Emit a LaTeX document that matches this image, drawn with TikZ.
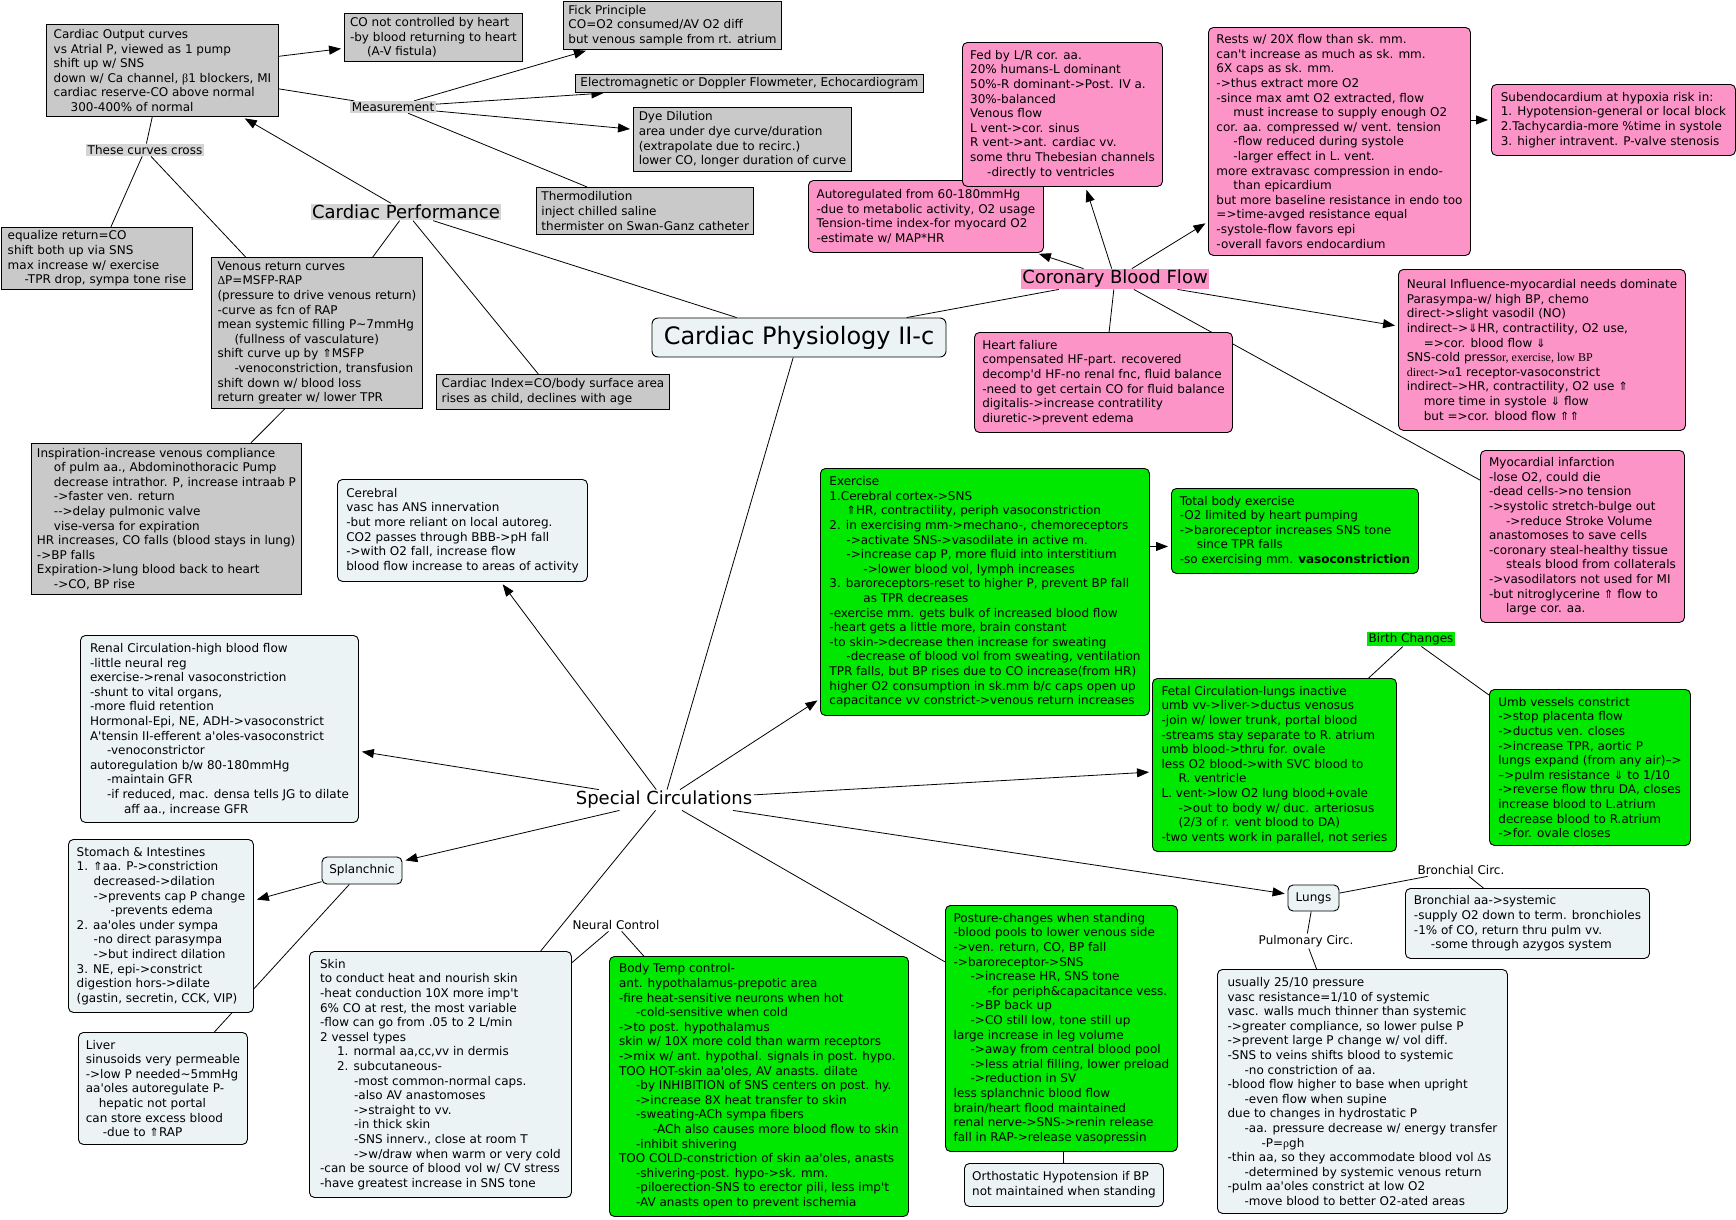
\documentclass[tikz,border=0pt]{standalone}
\usepackage{fontspec}
\setmainfont{DejaVu Sans}[Ligatures=TeXOff]
\newfontfamily\serifx{Liberation Serif}[Ligatures=TeXOff]
\usetikzlibrary{arrows.meta,backgrounds,calc}
\definecolor{graybox}{RGB}{201,201,201}
\definecolor{labgray}{RGB}{212,212,212}
\definecolor{pinkbox}{RGB}{252,148,200}
\definecolor{greenbox}{RGB}{0,232,0}
\definecolor{lightbox}{RGB}{236,243,245}
\newcommand\IND{\hspace*{17pt}}
\newcommand\INDD{\hspace*{34pt}}
\newcommand\upA{{\fontsize{11.5}{12}\selectfont ⇑}}
\newcommand\dnA{{\fontsize{11.5}{12}\selectfont ⇓}}
\newcommand\sym[1]{{\serifx #1}}
\tikzset{
 every node/.style={font=\fontsize{12}{14.6}\selectfont},
 box/.style={draw=black, line width=0.9pt, align=left, anchor=north west, inner xsep=5pt, inner ysep=3pt},
 gbox/.style={box, fill=graybox},
 pbox/.style={box, fill=pinkbox, rounded corners=5pt},
 ebox/.style={box, fill=greenbox, rounded corners=5pt},
 lbox/.style={box, fill=lightbox, rounded corners=5pt},
 lab/.style={inner sep=1.5pt},
 big/.style={font=\fontsize{18}{21}\selectfont, inner sep=1.5pt},
 con/.style={line width=0.8pt},
 arr/.style={con, -{Triangle[length=12pt,width=9pt]}, shorten >=3pt},
}
\begin{document}
\begin{tikzpicture}[x=1pt,y=-1pt]
\useasboundingbox (0,0) rectangle (1736,1219);

% ---------- centre ----------
\node[draw=black, line width=0.9pt, rounded corners=6pt, fill=lightbox, font=\fontsize{24}{28}\selectfont, minimum width=294, minimum height=39] (phys) at (799,337.5) {Cardiac Physiology II-c};

% ---------- labels ----------
\node[lab, fill=labgray] (meas) at (393,107) {Measurement};
\node[lab, fill=labgray] (cross) at (145,150) {These curves cross};
\node[big, fill=labgray] (perf) at (406,212) {Cardiac Performance};
\node[big, fill=pinkbox] (cor) at (1115,279) {Coronary Blood Flow};
\node[big] (spec) at (664,800) {Special Circulations};
\node[lab] (neural) at (616,925) {Neural Control};
\node[lab] (bron) at (1461,870) {Bronchial Circ.};
\node[lab] (pulm) at (1306,941) {Pulmonary Circ.};
\node[lab, fill=greenbox] (birth) at (1411,639) {Birth Changes};

% ---------- Cardiac performance (gray) ----------
\node[gbox, minimum width=232, minimum height=92] (cout) at (46,24) {Cardiac Output curves\\vs Atrial P, viewed as 1 pump\\shift up w/ SNS\\down w/ Ca channel, \sym{β}1 blockers, MI\\cardiac reserve-CO above normal\\\IND 300-400\% of normal};
\node[gbox, minimum width=178, minimum height=48] (conot) at (344,13) {CO not controlled by heart\\-by blood returning to heart\\\IND (A-V fistula)};
\node[gbox, minimum width=216, minimum height=48] (fick) at (563,1) {Fick Principle\\CO=O2 consumed/AV O2 diff\\but venous sample from rt. atrium};
\node[gbox, minimum width=346, minimum height=18] (elec) at (575,74) {Electromagnetic or Doppler Flowmeter, Echocardiogram};
\node[gbox, minimum width=218, minimum height=64] (dye) at (633,107) {Dye Dilution\\area under dye curve/duration\\(extrapolate due to recirc.)\\lower CO, longer duration of curve};
\node[gbox, minimum width=217, minimum height=47] (thermo) at (536,187) {Thermodilution\\inject chilled saline\\thermister on Swan-Ganz catheter};
\node[gbox, minimum width=191, minimum height=62] (equal) at (1,227) {equalize return=CO\\shift both up via SNS\\max increase w/ exercise\\\IND -TPR drop, sympa tone rise};
\node[gbox, minimum width=211, minimum height=151] (venous) at (211,257) {Venous return curves\\\sym{Δ}P=MSFP-RAP\\(pressure to drive venous return)\\-curve as fcn of RAP\\mean systemic filling P\textasciitilde7mmHg\\\IND (fullness of vasculature)\\shift curve up by \upA MSFP\\\IND -venoconstriction, transfusion\\shift down w/ blood loss\\return greater w/ lower TPR};
\node[gbox, minimum width=233, minimum height=35] (cindex) at (436,374) {Cardiac Index=CO/body surface area\\rises as child, declines with age};
\node[gbox, minimum width=270, minimum height=151] (insp) at (31,443) {Inspiration-increase venous compliance\\\IND of pulm aa., Abdominothoracic Pump\\\IND decrease intrathor. P, increase intraab P\\\IND ->faster ven. return\\\IND -\kern0pt->delay pulmonic valve\\\IND vise-versa for expiration\\HR increases, CO falls (blood stays in lung)\\->BP falls\\Expiration->lung blood back to heart\\\IND ->CO, BP rise};

% ---------- Coronary (pink) ----------
\node[pbox, minimum width=235, minimum height=72] (auto) at (808,180) {Autoregulated from 60-180mmHg\\-due to metabolic activity, O2 usage\\Tension-time index-for myocard O2\\-estimate w/ MAP*HR};
\node[pbox, minimum width=200, minimum height=144] (fed) at (962,42) {Fed by L/R cor. aa.\\20\% humans-L dominant\\50\%-R dominant->Post. IV a.\\30\%-balanced\\Venous flow\\L vent->cor. sinus\\R vent->ant. cardiac vv.\\some thru Thebesian channels\\\IND -directly to ventricles};
\node[pbox, minimum width=262, minimum height=228] (rests) at (1208,27) {Rests w/ 20X flow than sk. mm.\\can't increase as much as sk. mm.\\6X caps as sk. mm.\\->thus extract more O2\\-since max amt O2 extracted, flow\\\IND must increase to supply enough O2\\cor. aa. compressed w/ vent. tension\\\IND -flow reduced during systole\\\IND -larger effect in L. vent.\\more extravasc compression in endo-\\\IND than epicardium\\but more baseline resistance in endo too\\=>time-avged resistance equal\\-systole-flow favors epi\\-overall favors endocardium};
\node[pbox, minimum width=244, minimum height=71] (subendo) at (1491,84) {Subendocardium at hypoxia risk in:\\1. Hypotension-general or local block\\2.Tachycardia-more \%time in systole\\3. higher intravent. P-valve stenosis};
\node[pbox, minimum width=258, minimum height=100] (hf) at (974,332) {Heart faliure\\compensated HF-part. recovered\\decomp'd HF-no renal fnc, fluid balance\\-need to get certain CO for fluid balance\\digitalis->increase contratility\\diuretic->prevent edema};
\node[pbox, minimum width=287, minimum height=161] (neuralinf) at (1398,269) {Neural Influence-myocardial needs dominate\\Parasympa-w/ high BP, chemo\\direct->slight vasodil (NO)\\indirect–>\dnA HR, contractility, O2 use,\\\IND =>cor. blood flow \dnA\\SNS-cold press{\serifx or, exercise, low BP}\\{\serifx direct}->\sym{α}1 receptor-vasoconstrict\\indirect–>HR, contractility, O2 use \upA\\\IND more time in systole \dnA\ flow\\\IND but =>cor. blood flow \upA\upA};
\node[pbox, minimum width=204, minimum height=172] (mi) at (1480,450) {Myocardial infarction\\-lose O2, could die\\-dead cells->no tension\\->systolic stretch-bulge out\\\IND ->reduce Stroke Volume\\anastomoses to save cells\\-coronary steal-healthy tissue\\\IND steals blood from collaterals\\->vasodilators not used for MI\\-but nitroglycerine \upA\ flow to\\\IND large cor. aa.};

% ---------- Special circulations ----------
\node[lbox, minimum width=250, minimum height=102] (cereb) at (337,479) {Cerebral\\vasc has ANS innervation\\-but more reliant on local autoreg.\\CO2 passes through BBB->pH fall\\->with O2 fall, increase flow\\blood flow increase to areas of activity};
\node[ebox, minimum width=329, minimum height=247] (exer) at (820,468) {Exercise\\1.Cerebral cortex->SNS\\\IND \upA HR, contractility, periph vasoconstriction\\2. in exercising mm->mechano-, chemoreceptors\\\IND ->activate SNS->vasodilate in active m.\\\IND ->increase cap P, more fluid into interstitium\\\INDD ->lower blood vol, lymph increases\\3. baroreceptors-reset to higher P, prevent BP fall\\\INDD as TPR decreases\\-exercise mm. gets bulk of increased blood flow\\-heart gets a little more, brain constant\\-to skin->decrease then increase for sweating\\\IND -decrease of blood vol from sweating, ventilation\\TPR falls, but BP rises due to CO increase(from HR)\\higher O2 consumption in sk.mm b/c caps open up\\capacitance vv constrict->venous return increases};
\node[ebox, minimum width=247, minimum height=85] (total) at (1171,488) {Total body exercise\\-O2 limited by heart pumping\\->baroreceptor increases SNS tone\\\IND since TPR falls\\-so exercising mm. \textbf{vasoconstriction}};
\node[ebox, minimum width=244, minimum height=173] (fetal) at (1152,678) {Fetal Circulation-lungs inactive\\umb vv->liver->ductus venosus\\-join w/ lower trunk, portal blood\\-streams stay separate to R. atrium\\umb blood->thru for. ovale\\less O2 blood->with SVC blood to\\\IND R. ventricle\\L. vent->low O2 lung blood+ovale\\\IND ->out to body w/ duc. arteriosus\\\IND (2/3 of r. vent blood to DA)\\-two vents work in parallel, not series};
\node[ebox, minimum width=201, minimum height=156] (umb) at (1489,689) {Umb vessels constrict\\->stop placenta flow\\->ductus ven. closes\\->increase TPR, aortic P\\lungs expand (from any air)–>\\–>pulm resistance \dnA\ to 1/10\\->reverse flow thru DA, closes\\increase blood to L.atrium\\decrease blood to R.atrium\\->for. ovale closes};
\node[lbox, minimum width=278, minimum height=187] (renal) at (80,635) {Renal Circulation-high blood flow\\-little neural reg\\exercise->renal vasoconstriction\\-shunt to vital organs,\\-more fluid retention\\Hormonal-Epi, NE, ADH->vasoconstrict\\A'tensin II-efferent a'oles-vasoconstrict\\\IND -venoconstrictor\\autoregulation b/w 80-180mmHg\\\IND -maintain GFR\\\IND -if reduced, mac. densa tells JG to dilate\\\INDD aff aa., increase GFR};
\node[lbox, anchor=center, minimum width=80, minimum height=27] (splanch) at (362,870.5) {Splanchnic};
\node[lbox, minimum width=185, minimum height=173] (stom) at (68,839) {Stomach \& Intestines\\1. \upA aa. P->constriction\\\IND decreased->dilation\\\IND ->prevents cap P change\\\INDD -prevents edema\\2. aa'oles under sympa\\\IND -no direct parasympa\\\IND ->but indirect dilation\\3. NE, epi->constrict\\digestion hors->dilate\\(gastin, secretin, CCK, VIP)};
\node[lbox, minimum width=169, minimum height=112] (liver) at (78,1032) {Liver\\sinusoids very permeable\\->low P needed\textasciitilde5mmHg\\aa'oles autoregulate P-\\\hspace*{13pt}hepatic not portal\\can store excess blood\\\IND -due to \upA RAP};
\node[lbox, minimum width=262, minimum height=246] (skin) at (309,951) {Skin\\to conduct heat and nourish skin\\-heat conduction 10X more imp't\\6\% CO at rest, the most variable\\-flow can go from .05 to 2 L/min\\2 vessel types\\\IND 1. normal aa,cc,vv in dermis\\\IND 2. subcutaneous-\\\INDD -most common-normal caps.\\\INDD -also AV anastomoses\\\INDD ->straight to vv.\\\INDD -in thick skin\\\INDD -SNS innerv., close at room T\\\INDD ->w/draw when warm or very cold\\-can be source of blood vol w/ CV stress\\-have greatest increase in SNS tone};
\node[ebox, minimum width=299, minimum height=260] (body) at (609,956) {Body Temp control-\\ant. hypothalamus-prepotic area\\-fire heat-sensitive neurons when hot\\\IND -cold-sensitive when cold\\->to post. hypothalamus\\skin w/ 10X more cold than warm receptors\\->mix w/ ant. hypothal. signals in post. hypo.\\TOO HOT-skin aa'oles, AV anasts. dilate\\\IND -by INHIBITION of SNS centers on post. hy.\\\IND ->increase 8X heat transfer to skin\\\IND -sweating-ACh sympa fibers\\\INDD -ACh also causes more blood flow to skin\\\IND -inhibit shivering\\TOO COLD-constriction of skin aa'oles, anasts\\\IND -shivering-post. hypo->sk. mm.\\\IND -piloerection-SNS to erector pili, less imp't\\\IND -AV anasts open to prevent ischemia};
\node[ebox, minimum width=232, minimum height=246] (posture) at (945,905) {Posture-changes when standing\\-blood pools to lower venous side\\->ven. return, CO, BP fall\\->baroreceptor->SNS\\\IND ->increase HR, SNS tone\\\INDD -for periph\&capacitance vess.\\\IND ->BP back up\\\IND ->CO still low, tone still up\\large increase in leg volume\\\IND ->away from central blood pool\\\IND ->less atrial filling, lower preload\\\IND ->reduction in SV\\less splanchnic blood flow\\brain/heart flood maintained\\renal nerve->SNS->renin release\\fall in RAP->release vasopressin};
\node[lbox, minimum width=199, minimum height=43] (ortho) at (964,1163) {Orthostatic Hypotension if BP\\not maintained when standing};
\node[lbox, anchor=center, minimum width=51, minimum height=26] (lungs) at (1313.5,898) {Lungs};
\node[lbox, minimum width=290, minimum height=244] (pulmbox) at (1217,969) {usually 25/10 pressure\\vasc resistance=1/10 of systemic\\vasc. walls much thinner than systemic\\->greater compliance, so lower pulse P\\->prevent large P change w/ vol diff.\\-SNS to veins shifts blood to systemic\\\IND -no constriction of aa.\\-blood flow higher to base when upright\\\IND -even flow when supine\\due to changes in hydrostatic P\\\IND -aa. pressure decrease w/ energy transfer\\\INDD -P=\sym{ρ}gh\\-thin aa, so they accommodate blood vol \sym{Δ}s\\\IND -determined by systemic venous return\\-pulm aa'oles constrict at low O2\\\IND -move blood to better O2-ated areas};
\node[lbox, minimum width=244, minimum height=70] (bronbox) at (1405,888) {Bronchial aa->systemic\\-supply O2 down to term. bronchioles\\-1\% of CO, return thru pulm vv.\\\IND -some through azygos system};

% ---------- connectors ----------
\begin{scope}[on background layer]
\fill[white] (0,0) rectangle (1736,1219);
\draw[con] (phys) -- (perf);
\draw[con] (phys) -- (cor);
\draw[con] (phys) -- (spec);
\draw[arr] (perf) -- (cout);
\draw[con] (perf) -- (venous);
\draw[con] (perf) -- (cindex);
\draw[con] (cout) -- (meas);
\draw[arr] (cout) -- (conot);
\draw[arr] (meas) -- (fick);
\draw[arr] (meas) -- (elec);
\draw[arr] (meas) -- (dye);
\draw[con] (meas) -- (thermo);
\draw[con] (cout) -- (cross);
\draw[con] (cross) -- (equal);
\draw[con] (cross) -- (venous);
\draw[con] (venous.-113) -- (insp.42);
\draw[arr] (cor) -- (auto);
\draw[arr] (cor) -- (fed);
\draw[arr] (cor) -- (rests);
\draw[con] (cor) -- (hf);
\draw[arr] (cor) -- (neuralinf);
\draw[con] (cor) -- (mi);
\draw[arr] (rests.east |- subendo.west) -- (subendo.west);
\draw[arr] (spec) -- (cereb);
\draw[arr] (spec) -- (exer);
\draw[arr] (spec) -- (renal);
\draw[arr] (spec) -- (fetal);
\draw[arr] (spec) -- (splanch);
\draw[con] (spec) -- (skin);
\draw[con] (spec) -- (posture);
\draw[arr] (spec) -- (lungs);
\draw[arr] (splanch) -- (stom);
\draw[con] (splanch) -- (liver);
\draw[con] (neural) -- (skin);
\draw[con] (neural) -- (body);
\draw[con] (posture) -- (ortho);
\draw[con] (lungs) -- (bron);
\draw[con] (bron) -- (bronbox);
\draw[con] (lungs) -- (pulm);
\draw[con] (pulm) -- (pulmbox);
\draw[con] (birth) -- (fetal);
\draw[con] (birth) -- (umb);
\coordinate (tbin) at ($(total.west)+(0,15.5)$);
\draw[arr] (exer.east |- tbin) -- (tbin);
\end{scope}
\end{tikzpicture}
\end{document}
